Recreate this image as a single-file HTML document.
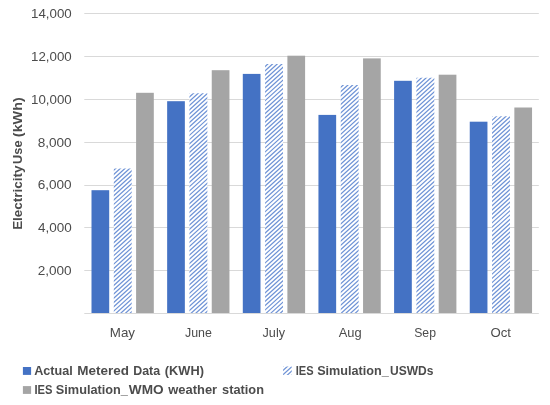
<!DOCTYPE html>
<html lang="en"><head><meta charset="utf-8"><title>Electricity Use (kWh)</title>
<style>html,body{margin:0;padding:0;background:#fff;overflow:hidden}svg{display:block}text{font-family:"Liberation Sans",sans-serif;fill:#4c4c4c}.b{font-weight:bold}</style></head><body>
<svg width="550" height="405" viewBox="0 0 550 405">
<defs><clipPath id="hc"><rect x="113.80" y="168.40" width="17.9" height="144.70"/><rect x="189.45" y="93.20" width="17.9" height="219.90"/><rect x="265.10" y="64.00" width="17.9" height="249.10"/><rect x="340.75" y="85.10" width="17.9" height="228.00"/><rect x="416.40" y="77.70" width="17.9" height="235.40"/><rect x="492.05" y="116.20" width="17.9" height="196.90"/><rect x="283.1" y="366.5" width="8.7" height="8.4"/></clipPath></defs>
<rect width="550" height="405" fill="#fff"/>
<line x1="84.3" x2="538.8" y1="270.5" y2="270.5" stroke="#d9d9d9" stroke-width="1"/>
<line x1="84.3" x2="538.8" y1="227.5" y2="227.5" stroke="#d9d9d9" stroke-width="1"/>
<line x1="84.3" x2="538.8" y1="185.5" y2="185.5" stroke="#d9d9d9" stroke-width="1"/>
<line x1="84.3" x2="538.8" y1="142.5" y2="142.5" stroke="#d9d9d9" stroke-width="1"/>
<line x1="84.3" x2="538.8" y1="99.5" y2="99.5" stroke="#d9d9d9" stroke-width="1"/>
<line x1="84.3" x2="538.8" y1="56.5" y2="56.5" stroke="#d9d9d9" stroke-width="1"/>
<line x1="84.3" x2="538.8" y1="13.5" y2="13.5" stroke="#d9d9d9" stroke-width="1"/>
<rect x="91.50" y="190.20" width="17.7" height="122.90" fill="#4472c4"/>
<rect x="136.10" y="92.80" width="17.7" height="220.30" fill="#a5a5a5"/>
<rect x="167.15" y="101.20" width="17.7" height="211.90" fill="#4472c4"/>
<rect x="211.75" y="70.20" width="17.7" height="242.90" fill="#a5a5a5"/>
<rect x="242.80" y="73.90" width="17.7" height="239.20" fill="#4472c4"/>
<rect x="287.40" y="55.70" width="17.7" height="257.40" fill="#a5a5a5"/>
<rect x="318.45" y="114.90" width="17.7" height="198.20" fill="#4472c4"/>
<rect x="363.05" y="58.40" width="17.7" height="254.70" fill="#a5a5a5"/>
<rect x="394.10" y="80.80" width="17.7" height="232.30" fill="#4472c4"/>
<rect x="438.70" y="74.70" width="17.7" height="238.40" fill="#a5a5a5"/>
<rect x="469.75" y="121.70" width="17.7" height="191.40" fill="#4472c4"/>
<rect x="514.35" y="107.50" width="17.7" height="205.60" fill="#a5a5a5"/>
<g clip-path="url(#hc)"><rect x="100" y="50" width="420" height="330" fill="#fff"/><path d="M-262.14,380L100.32,50M-257.45,380L105.01,50M-252.76,380L109.70,50M-248.07,380L114.39,50M-243.38,380L119.08,50M-238.69,380L123.77,50M-234.00,380L128.46,50M-229.31,380L133.15,50M-224.62,380L137.84,50M-219.93,380L142.53,50M-215.24,380L147.22,50M-210.55,380L151.91,50M-205.86,380L156.60,50M-201.17,380L161.29,50M-196.48,380L165.98,50M-191.79,380L170.67,50M-187.10,380L175.36,50M-182.41,380L180.05,50M-177.72,380L184.74,50M-173.03,380L189.43,50M-168.34,380L194.12,50M-163.65,380L198.81,50M-158.96,380L203.50,50M-154.27,380L208.19,50M-149.58,380L212.88,50M-144.89,380L217.57,50M-140.20,380L222.26,50M-135.51,380L226.95,50M-130.82,380L231.64,50M-126.13,380L236.33,50M-121.44,380L241.02,50M-116.75,380L245.71,50M-112.06,380L250.40,50M-107.37,380L255.09,50M-102.68,380L259.78,50M-97.99,380L264.47,50M-93.30,380L269.16,50M-88.61,380L273.85,50M-83.92,380L278.54,50M-79.23,380L283.23,50M-74.54,380L287.92,50M-69.85,380L292.61,50M-65.16,380L297.30,50M-60.47,380L301.99,50M-55.78,380L306.68,50M-51.09,380L311.37,50M-46.40,380L316.06,50M-41.71,380L320.75,50M-37.02,380L325.44,50M-32.33,380L330.13,50M-27.64,380L334.82,50M-22.95,380L339.51,50M-18.26,380L344.20,50M-13.57,380L348.89,50M-8.88,380L353.58,50M-4.19,380L358.27,50M0.50,380L362.96,50M5.19,380L367.65,50M9.88,380L372.34,50M14.57,380L377.03,50M19.26,380L381.72,50M23.95,380L386.41,50M28.64,380L391.10,50M33.33,380L395.79,50M38.02,380L400.48,50M42.71,380L405.17,50M47.40,380L409.86,50M52.09,380L414.55,50M56.78,380L419.24,50M61.47,380L423.93,50M66.16,380L428.62,50M70.85,380L433.31,50M75.54,380L438.00,50M80.23,380L442.69,50M84.92,380L447.38,50M89.61,380L452.07,50M94.30,380L456.76,50M98.99,380L461.45,50M103.68,380L466.14,50M108.37,380L470.83,50M113.06,380L475.52,50M117.75,380L480.21,50M122.44,380L484.90,50M127.13,380L489.59,50M131.82,380L494.28,50M136.51,380L498.97,50M141.20,380L503.66,50M145.89,380L508.35,50M150.58,380L513.04,50M155.27,380L517.73,50M159.96,380L522.42,50M164.65,380L527.11,50M169.34,380L531.80,50M174.03,380L536.49,50M178.72,380L541.18,50M183.41,380L545.87,50M188.10,380L550.56,50M192.79,380L555.25,50M197.48,380L559.94,50M202.17,380L564.63,50M206.86,380L569.32,50M211.55,380L574.01,50M216.24,380L578.70,50M220.93,380L583.39,50M225.62,380L588.08,50M230.31,380L592.77,50M235.00,380L597.46,50M239.69,380L602.15,50M244.38,380L606.84,50M249.07,380L611.53,50M253.76,380L616.22,50M258.45,380L620.91,50M263.14,380L625.60,50M267.83,380L630.29,50M272.52,380L634.98,50M277.21,380L639.67,50M281.90,380L644.36,50M286.59,380L649.05,50M291.28,380L653.74,50M295.97,380L658.43,50M300.66,380L663.12,50M305.35,380L667.81,50M310.04,380L672.50,50M314.73,380L677.19,50M319.42,380L681.88,50M324.11,380L686.57,50M328.80,380L691.26,50M333.49,380L695.95,50M338.18,380L700.64,50M342.87,380L705.33,50M347.56,380L710.02,50M352.25,380L714.71,50M356.94,380L719.40,50M361.63,380L724.09,50M366.32,380L728.78,50M371.01,380L733.47,50M375.70,380L738.16,50M380.39,380L742.85,50M385.08,380L747.54,50M389.77,380L752.23,50M394.46,380L756.92,50M399.15,380L761.61,50M403.84,380L766.30,50M408.53,380L770.99,50M413.22,380L775.68,50M417.91,380L780.37,50M422.60,380L785.06,50M427.29,380L789.75,50M431.98,380L794.44,50M436.67,380L799.13,50M441.36,380L803.82,50M446.05,380L808.51,50M450.74,380L813.20,50M455.43,380L817.89,50M460.12,380L822.58,50M464.81,380L827.27,50M469.50,380L831.96,50M474.19,380L836.65,50M478.88,380L841.34,50M483.57,380L846.03,50M488.26,380L850.72,50M492.95,380L855.41,50M497.64,380L860.10,50M502.33,380L864.79,50M507.02,380L869.48,50M511.71,380L874.17,50M516.40,380L878.86,50" stroke="#7094d6" stroke-width="1.25" fill="none"/></g>
<line x1="84.3" x2="538.8" y1="313.5" y2="313.5" stroke="#d9d9d9" stroke-width="1"/>
<rect x="22.9" y="367" width="8.2" height="7.9" fill="#4472c4"/>
<rect x="22.9" y="386.1" width="8.2" height="7.8" fill="#a5a5a5"/>
<text y="275.09" font-size="13.6"><tspan id="y1" x="37.70" textLength="34.00" lengthAdjust="spacingAndGlyphs">2,000</tspan></text>
<text y="232.27" font-size="13.6"><tspan id="y2" x="37.95" textLength="33.75" lengthAdjust="spacingAndGlyphs">4,000</tspan></text>
<text y="189.46" font-size="13.6"><tspan id="y3" x="37.70" textLength="34.00" lengthAdjust="spacingAndGlyphs">6,000</tspan></text>
<text y="146.64" font-size="13.6"><tspan id="y4" x="37.70" textLength="34.00" lengthAdjust="spacingAndGlyphs">8,000</tspan></text>
<text y="103.83" font-size="13.6"><tspan id="y5" x="31.00" textLength="40.70" lengthAdjust="spacingAndGlyphs">10,000</tspan></text>
<text y="61.01" font-size="13.6"><tspan id="y6" x="31.00" textLength="40.70" lengthAdjust="spacingAndGlyphs">12,000</tspan></text>
<text y="18.20" font-size="13.6"><tspan id="y7" x="31.00" textLength="40.70" lengthAdjust="spacingAndGlyphs">14,000</tspan></text>
<text y="336.50" font-size="13"><tspan id="May" x="109.80" textLength="25.20" lengthAdjust="spacingAndGlyphs">May</tspan></text>
<text y="336.50" font-size="13"><tspan id="June" x="185.00" textLength="26.90" lengthAdjust="spacingAndGlyphs">June</tspan></text>
<text y="336.50" font-size="13"><tspan id="July" x="262.55" textLength="22.45" lengthAdjust="spacingAndGlyphs">July</tspan></text>
<text y="336.50" font-size="13"><tspan id="Aug" x="338.70" textLength="22.95" lengthAdjust="spacingAndGlyphs">Aug</tspan></text>
<text y="336.50" font-size="13"><tspan id="Sep" x="414.20" textLength="21.75" lengthAdjust="spacingAndGlyphs">Sep</tspan></text>
<text y="336.50" font-size="13"><tspan id="Oct" x="490.40" textLength="20.50" lengthAdjust="spacingAndGlyphs">Oct</tspan></text>
<text class="b" y="374.70" font-size="12.4"><tspan id="l1a" x="34.15" textLength="38.50" lengthAdjust="spacingAndGlyphs">Actual</tspan> <tspan id="l1b" x="77.35" textLength="51.60" lengthAdjust="spacingAndGlyphs">Metered</tspan> <tspan id="l1c" x="133.25" textLength="26.90" lengthAdjust="spacingAndGlyphs">Data</tspan> <tspan id="l1d" x="164.80" textLength="39.10" lengthAdjust="spacingAndGlyphs">(KWH)</tspan></text>
<text class="b" y="374.70" font-size="12.4"><tspan id="l2a" x="295.70" textLength="17.85" lengthAdjust="spacingAndGlyphs">IES</tspan> <tspan id="l2b" x="317.15" textLength="71.60" lengthAdjust="spacingAndGlyphs">Simulation_</tspan><tspan id="l2c" x="390.00" textLength="43.40" lengthAdjust="spacingAndGlyphs">USWDs</tspan></text>
<text class="b" y="393.90" font-size="12.4"><tspan id="l3a" x="34.50" textLength="18.05" lengthAdjust="spacingAndGlyphs">IES</tspan> <tspan id="l3b" x="55.85" textLength="72.10" lengthAdjust="spacingAndGlyphs">Simulation_</tspan><tspan id="l3e" x="128.85" textLength="34.75" lengthAdjust="spacingAndGlyphs">WMO</tspan> <tspan id="l3c" x="168.25" textLength="48.85" lengthAdjust="spacingAndGlyphs">weather</tspan> <tspan id="l3d" x="222.05" textLength="41.90" lengthAdjust="spacingAndGlyphs">station</tspan></text>
<text class="b" transform="translate(21.6,0) rotate(-90)" y="0" font-size="13.4"><tspan id="t1" x="-229.85" textLength="64.25" lengthAdjust="spacingAndGlyphs">Electricity</tspan> <tspan id="t2" x="-163.90" textLength="23.45" lengthAdjust="spacingAndGlyphs">Use</tspan> <tspan id="t3" x="-137.15" textLength="39.85" lengthAdjust="spacingAndGlyphs">(kWh)</tspan></text>
</svg></body></html>
